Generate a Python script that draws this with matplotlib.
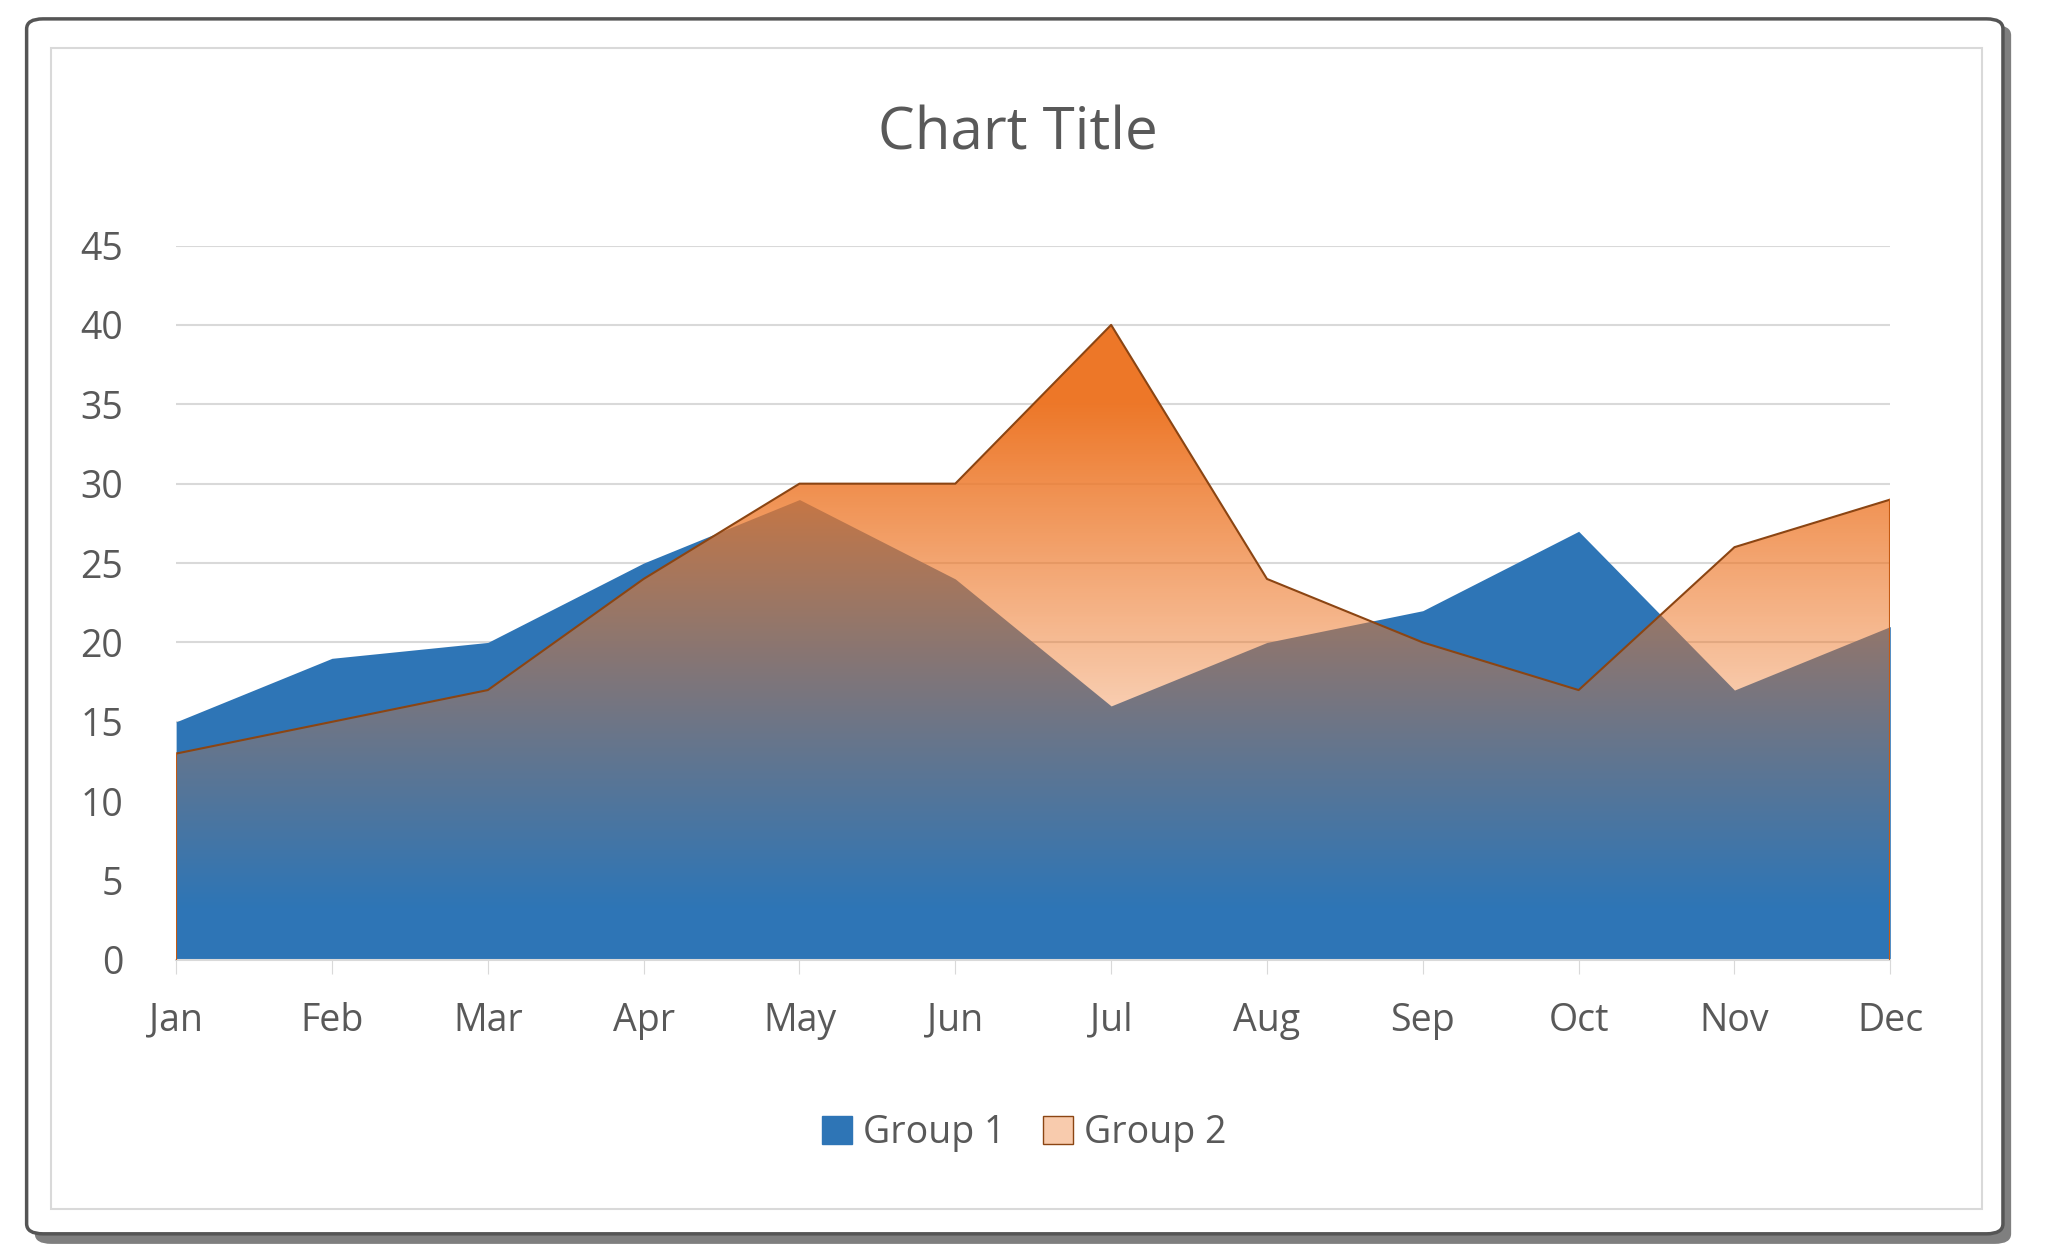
import matplotlib
matplotlib.use("Agg")
import matplotlib.pyplot as plt
import numpy as np
from matplotlib.patches import FancyBboxPatch, Polygon, Rectangle

months = ["Jan","Feb","Mar","Apr","May","Jun","Jul","Aug","Sep","Oct","Nov","Dec"]
group1 = [15, 19, 20, 25, 29, 24, 16, 20, 22, 27, 17, 21]
group2 = [13, 15, 17, 24, 30, 30, 40, 24, 20, 17, 26, 29]

plt.rcParams['font.family'] = ['Open Sans', 'DejaVu Sans']
fig = plt.figure(figsize=(20.48, 12.59), dpi=100)

fig.patches.append(FancyBboxPatch((0.017, 0.012), 0.965, 0.968, boxstyle="round,pad=0,rounding_size=0.008",
                                  transform=fig.transFigure, fc="#7f7f7f", ec="none", zorder=0))
fig.patches.append(FancyBboxPatch((0.013, 0.02), 0.965, 0.965, boxstyle="round,pad=0,rounding_size=0.008",
                                  transform=fig.transFigure, fc="white", ec="#555555", lw=2.5, zorder=1))
fig.patches.append(Rectangle((0.025, 0.04), 0.943, 0.922, transform=fig.transFigure,
                             fc="white", ec="#d9d9d9", lw=1.5, zorder=2))

ax = fig.add_axes([0.086, 0.2375, 0.837, 0.5675])
ax.set_zorder(3)
x = np.arange(len(months))
ax.fill_between(x, group1, 0, color="#2E75B6", zorder=2, lw=0)

verts = list(zip(x, group2)) + [(x[-1], 0), (x[0], 0)]
poly = Polygon(verts, closed=True, fc="none", ec="none")
ax.add_patch(poly)
n = 256
rgba = np.zeros((n, 1, 4))
yy = np.linspace(0, 45, n)
rgba[:, 0, 0] = 0.93; rgba[:, 0, 1] = 0.47; rgba[:, 0, 2] = 0.16
rgba[:, 0, 3] = np.clip((yy - 3) / 32, 0, 1) ** 1.1
im = ax.imshow(rgba, extent=[x[0], x[-1], 0, 45], origin="lower", aspect="auto", zorder=3)
im.set_clip_path(poly)
ax.plot(x, group2, color="#8B4513", lw=1.5, zorder=4)
ax.plot([x[0], x[0]], [0, group2[0]], color="#C55A11", lw=1.5, zorder=4)
ax.plot([x[-1], x[-1]], [0, group2[-1]], color="#C55A11", lw=1.5, zorder=4)

ax.set_xlim(x[0], x[-1])
ax.set_ylim(0, 45)
ax.set_yticks(range(0, 46, 5))
ax.set_xticks(x)
ax.set_xticklabels(months)
ax.grid(axis="y", color="#d9d9d9", lw=1.5)
ax.set_axisbelow(True)
for s in ["top", "right", "left"]:
    ax.spines[s].set_visible(False)
ax.spines["bottom"].set_color("#d9d9d9")
ax.spines["bottom"].set_linewidth(1.5)
ax.tick_params(axis="y", length=0, labelsize=27, labelcolor="#595959", pad=38)
ax.tick_params(axis="x", length=10, color="#d9d9d9", labelsize=27, labelcolor="#595959", pad=20)

fig.text(0.497, 0.893, "Chart Title", ha="center", va="center", fontsize=42, color="#595959")

h1 = Rectangle((0, 0), 1, 1, fc="#2E75B6", ec="#2E75B6")
h2 = Rectangle((0, 0), 1, 1, fc="#F8CBAD", ec="#8B4513")
fig.legend([h1, h2], ["Group 1", "Group 2"], loc="center", bbox_to_anchor=(0.5, 0.1),
           ncol=2, frameon=False, fontsize=27, labelcolor="#595959",
           handlelength=0.8, handleheight=0.8, handletextpad=0.3, columnspacing=1.0)

fig.savefig("out.png", dpi=100)
